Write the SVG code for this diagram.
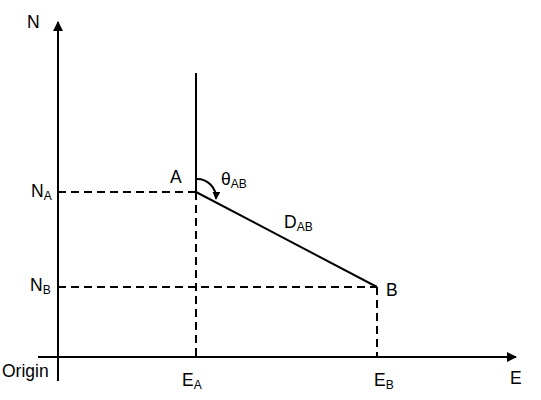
<svg xmlns="http://www.w3.org/2000/svg" width="541" height="400" viewBox="0 0 541 400">
<style>
.ax{stroke:#000;stroke-width:2;fill:none}
.sol{stroke:#000;stroke-width:2;fill:none}
.dash{stroke:#000;stroke-width:2;fill:none;stroke-dasharray:8,5}
text{font-family:"Liberation Sans",Arial,sans-serif;font-size:17.5px;fill:#000}
.sub{font-size:12px}
</style>
<defs>
<marker id="arr" viewBox="0 0 10 10" refX="9" refY="5" markerWidth="5" markerHeight="5" orient="auto" markerUnits="strokeWidth">
<path d="M0,0 L10,5 L0,10 z" fill="#000"/>
</marker>
<marker id="arr2" viewBox="0 0 10 10" refX="9" refY="5" markerWidth="4" markerHeight="4" orient="auto" markerUnits="strokeWidth">
<path d="M0,0 L10,5 L0,10 z" fill="#000"/>
</marker>
</defs>
<rect width="541" height="400" fill="#fff"/>
<g id="connectors">
<line class="ax" x1="58" y1="381" x2="58" y2="22" marker-end="url(#arr)"/>
<line class="ax" x1="38" y1="357" x2="516" y2="357" marker-end="url(#arr)"/>
<line class="sol" x1="196" y1="73" x2="196" y2="192"/>
<line class="sol" x1="196" y1="192" x2="377" y2="287"/>
<line class="dash" x1="58" y1="192" x2="196" y2="192"/>
<line class="dash" x1="196" y1="192" x2="196" y2="357"/>
<line class="dash" x1="58" y1="287" x2="377" y2="287"/>
<line class="dash" x1="377" y1="287" x2="377" y2="357"/>
<path class="sol" d="M196,179 A19,19 0 0 1 216,199" stroke-width="1.6" marker-end="url(#arr2)"/>
</g>
<g id="labels">
<text x="27" y="28">N</text>
<text x="31" y="197">N<tspan class="sub" dy="3">A</tspan></text>
<text x="30" y="291">N<tspan class="sub" dy="3">B</tspan></text>
<text x="2" y="377">Origin</text>
<text x="182" y="386">E<tspan class="sub" dy="3">A</tspan></text>
<text x="374" y="386">E<tspan class="sub" dy="3">B</tspan></text>
<text x="510" y="384">E</text>
</g>
<g id="nodeA">
<text x="170" y="183">A</text>
<text x="221" y="185">θ<tspan class="sub" dy="3">AB</tspan></text>
</g>
<g id="nodeB">
<text x="386" y="296">B</text>
</g>
<g id="edgeLabel">
<text x="284" y="228">D<tspan class="sub" dy="3">AB</tspan></text>
</g>
</svg>
